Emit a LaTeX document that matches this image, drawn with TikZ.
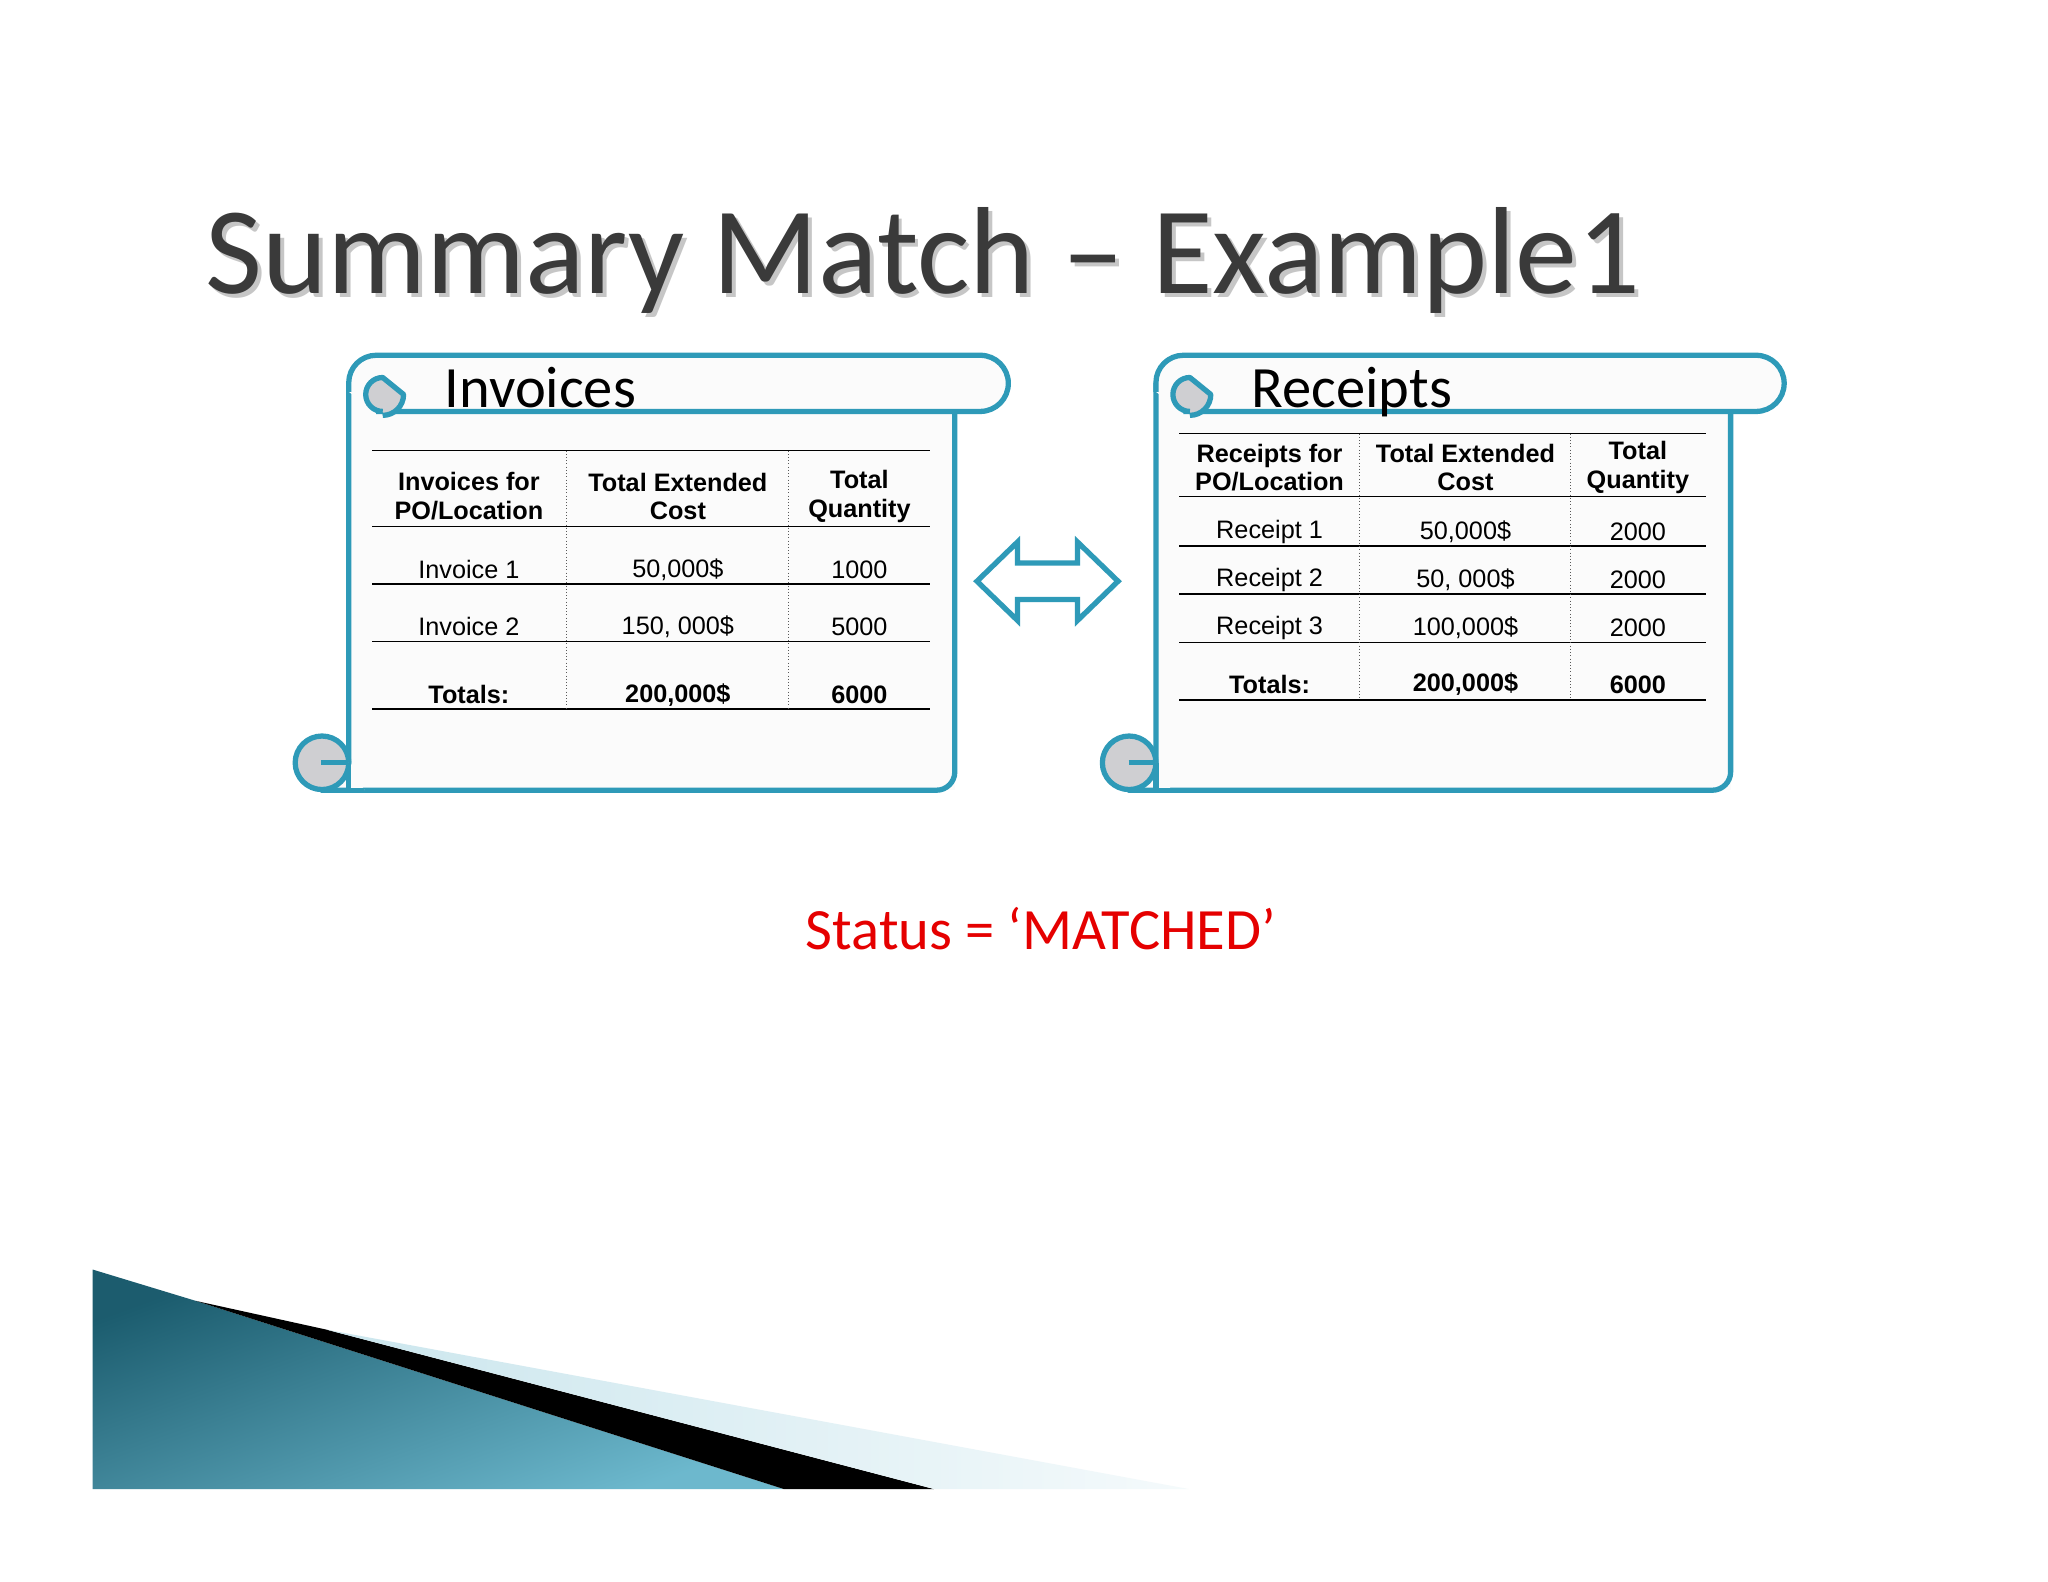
\documentclass[tikz,border=0pt]{standalone}
\usepackage{fontspec}
\setmainfont{Liberation Sans}
\newfontfamily\calfont{Carlito}
\definecolor{tealc}{HTML}{2E9AB8}
\definecolor{curl}{HTML}{CFCFD2}
\definecolor{titlec}{HTML}{3A3A3A}
\tikzset{
 scr/.style={draw=tealc,line width=2.3pt,fill=white!97!gray,line join=round},
 cel/.style={font=\fontsize{11}{12.5}\selectfont,align=center,inner sep=0},
 bcel/.style={cel,font=\fontsize{11}{12.5}\selectfont\bfseries},
 rul/.style={line width=0.7pt},
 dot/.style={densely dotted,line width=0.4pt,gray!70!black},
}
\newcommand\myscroll[5]{% left right(body) right(roll) heading name
 \fill[white!97!gray] (#1,300) rectangle (#2,605);
 \draw[scr] (#1,293) -- (#1,584) -- (#1-21,605) -- (#2-14,605) arc[start angle=90,end angle=0,radius=14] -- (#2,315);
 \draw[scr] (#1+21,315) -- (#3-21.5,315) arc[start angle=90,end angle=-90,radius=21.5] -- (#1+21,272) arc[start angle=-90,end angle=-180,radius=21] -- (#1,300);
 \draw[scr,fill=curl] (#1+26,315) arc[start angle=90,end angle=270,radius=13] -- (#1+42,302) arc[start angle=0,end angle=90,radius=16];
 \draw[scr,fill=curl] (#1,584) arc[start angle=0,end angle=360,radius=20.5];
 \draw[scr] (#1-21,584) -- (#1,584);
 \fill[white!97!gray] (#1+1.5,586) rectangle (#1+10,603);
 \draw[scr] (#1,584) -- (#1,605) -- (#1+12,605);
 \node[anchor=base west,font=\calfont\fontsize{25.5}{25.5}\selectfont,inner sep=0] (#5) at (#1+73,312) {#4};
}
\begin{document}
\begin{tikzpicture}[x=0.02cm,y=-0.02cm]
\useasboundingbox (0,0) rectangle (1568,1211);
\fill[white] (0,0) rectangle (1568,1211);
% title
\node[anchor=base west,inner sep=0,font=\calfont\fontsize{54}{54}\selectfont,text=gray!45] at (160,228) {Summary Match – Example1};
\node[anchor=base west,inner sep=0,font=\calfont\fontsize{54}{54}\selectfont,text=titlec] (title) at (157,225) {Summary Match – Example1};
% scrolls
\myscroll{267}{731}{772}{Invoices}{hinv}
\myscroll{885}{1325}{1366}{Receipts}{hrec}
% left table
\foreach \y in {345,403,447,491,543} \draw[rul] (285,\y) -- (712,\y);
\foreach \x in {434,604} \draw[dot] (\x,345) -- (\x,543);
\node[bcel] (l11) at (359,380) {Invoices for\\PO/Location};
\node[bcel] (l12) at (519,380) {Total Extended\\Cost};
\node[bcel] (l13) at (658,380) {Total\\Quantity};
\node[cel] (l21) at (359,436) {Invoice 1};
\node[cel] (l22) at (519,436) {50,000\$};
\node[cel] (l23) at (658,436) {1000};
\node[cel] (l31) at (359,480) {Invoice 2};
\node[cel] (l32) at (519,480) {150, 000\$};
\node[cel] (l33) at (658,480) {5000};
\node[bcel] (l41) at (359,532) {Totals:};
\node[bcel] (l42) at (519,532) {200,000\$};
\node[bcel] (l43) at (658,532) {6000};
% right table
\foreach \y in {332,380,418,455,492,536} \draw[rul] (903,\y) -- (1306,\y);
\foreach \x in {1041,1202} \draw[dot] (\x,332) -- (\x,536);
\node[bcel] (r11) at (972,358) {Receipts for\\PO/Location};
\node[bcel] (r12) at (1122,358) {Total Extended\\Cost};
\node[bcel] (r13) at (1254,358) {Total\\Quantity};
\node[cel] (r21) at (972,407) {Receipt 1};
\node[cel] (r22) at (1122,407) {50,000\$};
\node[cel] (r23) at (1254,407) {2000};
\node[cel] (r31) at (972,444) {Receipt 2};
\node[cel] (r32) at (1122,444) {50, 000\$};
\node[cel] (r33) at (1254,444) {2000};
\node[cel] (r41) at (972,481) {Receipt 3};
\node[cel] (r42) at (1122,481) {100,000\$};
\node[cel] (r43) at (1254,481) {2000};
\node[bcel] (r51) at (972,524) {Totals:};
\node[bcel] (r52) at (1122,524) {200,000\$};
\node[bcel] (r53) at (1254,524) {6000};
% double arrow
\draw[draw=tealc,line width=2.3pt,fill=white,line join=miter] (748,445) -- (779,415) -- (779,431) -- (825,431) -- (825,415) -- (856,445) -- (825,475) -- (825,459) -- (779,459) -- (779,475) -- cycle;
% status
\node[anchor=base,inner sep=0,font=\calfont\fontsize{25.5}{25.5}\selectfont,text=red!90!black] (status) at (797,727) {Status = ‘MATCHED’};
% decoration
\shade[top color=tealc!60!black,bottom color=tealc!70!white,shading angle=20] (71,972) -- (150,996) -- (600,1140) -- (71,1140) -- cycle;
\fill[black] (150,996) -- (250,1018) -- (715,1140) -- (600,1140) -- cycle;
\shade[left color=tealc!25,right color=tealc!5] (250,1018) -- (910,1140) -- (715,1140) -- cycle;
\end{tikzpicture}
\end{document}
